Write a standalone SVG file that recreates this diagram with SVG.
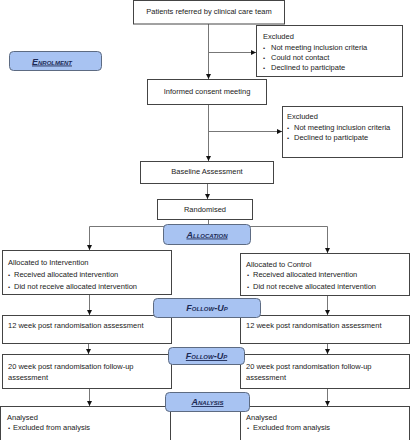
<svg xmlns="http://www.w3.org/2000/svg" width="410" height="440" viewBox="0 0 410 440">
<defs>
<marker id="ah" markerWidth="6" markerHeight="6" refX="5" refY="3" orient="auto" markerUnits="userSpaceOnUse">
<path d="M0,0.5 L5,3 L0,5.5 z" fill="#111"/>
</marker>
<style>
.box{fill:#fff;stroke:#444;stroke-width:1}
.pill{fill:#a8c3f2;stroke:#5d6b82;stroke-width:1}
.t{font-family:"Liberation Sans",Arial,sans-serif;font-size:7.5px;fill:#222}
.b{font-size:6px}
.c{text-anchor:middle}
.p{font-family:"Liberation Sans",Arial,sans-serif;font-size:9px;font-weight:bold;font-style:italic;font-variant:small-caps;fill:#1c2a55;text-anchor:middle}
.u{text-decoration:underline}
.ln{fill:none;stroke:#777;stroke-width:1}
.ar{marker-end:url(#ah)}
</style>
</defs>
<rect x="0" y="0" width="410" height="440" fill="#fff"/>
<g id="connectors">
<path class="ln ar" d="M208.5,24 V79"/>
<path class="ln ar" d="M208.5,52.5 H256"/>
<path class="ln ar" d="M208.5,105 V161"/>
<path class="ln ar" d="M208.5,131.5 H282"/>
<path class="ln ar" d="M207.5,184 V199"/>
<path class="ln" d="M208.5,220 V226.5 M89.5,226.5 H327.5"/>
<path class="ln ar" d="M89.5,226.5 V250"/>
<path class="ln ar" d="M327.5,226.5 V253"/>
<path class="ln ar" d="M89.5,295 V315"/>
<path class="ln ar" d="M327.5,296 V315"/>
<path class="ln ar" d="M88.5,344 V354"/>
<path class="ln ar" d="M327.5,344 V354"/>
<path class="ln ar" d="M89.5,389 V406"/>
<path class="ln ar" d="M327.5,389 V406"/>
</g>
<g id="patients">
<rect class="box" x="133.5" y="0.5" width="151" height="23.5"/>
<text class="t c" x="209" y="13.5">Patients referred by clinical care team</text>
</g>
<g id="excluded1">
<rect class="box" x="256.5" y="25.5" width="146" height="51"/>
<text class="t" x="263" y="39">Excluded</text>
<text class="t b" x="263" y="49.5">•</text><text class="t" x="271" y="49.5">Not meeting inclusion criteria</text>
<text class="t b" x="263" y="59.5">•</text><text class="t" x="271" y="59.5">Could not contact</text>
<text class="t b" x="263" y="69.5">•</text><text class="t" x="271" y="69.5">Declined to participate</text>
</g>
<g id="consent">
<rect class="box" x="147.5" y="79.5" width="119" height="25"/>
<text class="t c" x="207" y="93.5">Informed consent meeting</text>
</g>
<g id="excluded2">
<rect class="box" x="282.5" y="106.5" width="120" height="51"/>
<text class="t" x="287" y="118.5">Excluded</text>
<text class="t b" x="287" y="129.5">•</text><text class="t" x="294" y="129.5">Not meeting inclusion criteria</text>
<text class="t b" x="287" y="139.5">•</text><text class="t" x="294" y="139.5">Declined to participate</text>
</g>
<g id="baseline">
<rect class="box" x="140.5" y="161.5" width="133" height="22"/>
<text class="t c" x="207" y="173.5">Baseline Assessment</text>
</g>
<g id="randomised">
<rect class="box" x="157.5" y="199.5" width="95" height="20"/>
<text class="t c" x="205" y="211.5">Randomised</text>
</g>
<g id="alloc-intervention">
<rect class="box" x="2.5" y="250.5" width="169" height="44"/>
<text class="t" x="8" y="264.5">Allocated to Intervention</text>
<text class="t b" x="8" y="276.5">•</text><text class="t" x="14" y="276.5">Received allocated intervention</text>
<text class="t b" x="8" y="288.5">•</text><text class="t" x="14" y="288.5">Did not receive allocated intervention</text>
</g>
<g id="alloc-control">
<rect class="box" x="240.5" y="253.5" width="169" height="42"/>
<text class="t" x="246" y="266.5">Allocated to Control</text>
<text class="t b" x="247" y="276.5">•</text><text class="t" x="253" y="276.5">Received allocated intervention</text>
<text class="t b" x="247" y="288.5">•</text><text class="t" x="253" y="288.5">Did not receive allocated intervention</text>
</g>
<g id="week12-left">
<rect class="box" x="2.5" y="315.5" width="169" height="28"/>
<text class="t" x="8" y="327.5">12 week post randomisation assessment</text>
</g>
<g id="week12-right">
<rect class="box" x="240.5" y="315.5" width="169" height="28"/>
<text class="t" x="246" y="327.5">12 week post randomisation assessment</text>
</g>
<g id="week20-left">
<rect class="box" x="2.5" y="354.5" width="169" height="34"/>
<text class="t" x="8" y="369">20 week post randomisation follow-up</text>
<text class="t" x="8" y="379.5">assessment</text>
</g>
<g id="week20-right">
<rect class="box" x="240.5" y="354.5" width="169" height="34"/>
<text class="t" x="246" y="369">20 week post randomisation follow-up</text>
<text class="t" x="246" y="379.5">assessment</text>
</g>
<g id="analysed-left">
<rect class="box" x="0.5" y="406.5" width="170" height="40"/>
<text class="t" x="7" y="419.5">Analysed</text>
<text class="t b" x="8" y="430">•</text><text class="t" x="13" y="430">Excluded from analysis</text>
</g>
<g id="analysed-right">
<rect class="box" x="240.5" y="406.5" width="169" height="40"/>
<text class="t" x="246" y="419.5">Analysed</text>
<text class="t b" x="247" y="430">•</text><text class="t" x="253" y="430">Excluded from analysis</text>
</g>
<g id="enrolment">
<rect class="pill" x="9.5" y="51.5" width="92" height="19" rx="4"/>
<text class="p u" x="52" y="64.5">Enrolment</text>
</g>
<g id="allocation">
<rect class="pill" x="163.5" y="224.5" width="87" height="20" rx="4"/>
<text class="p u" x="207" y="237.5">Allocation</text>
</g>
<g id="followup1">
<rect class="pill" x="153.5" y="298.5" width="107" height="19" rx="4"/>
<text class="p" x="207" y="311">Follow-Up</text>
</g>
<g id="followup2">
<rect class="pill" x="168.5" y="347.5" width="76" height="17" rx="4"/>
<text class="p u" x="206.5" y="359">Follow-Up</text>
</g>
<g id="analysis">
<rect class="pill" x="165.5" y="392.5" width="84" height="19" rx="4"/>
<text class="p u" x="207.5" y="405">Analysis</text>
</g>
</svg>
